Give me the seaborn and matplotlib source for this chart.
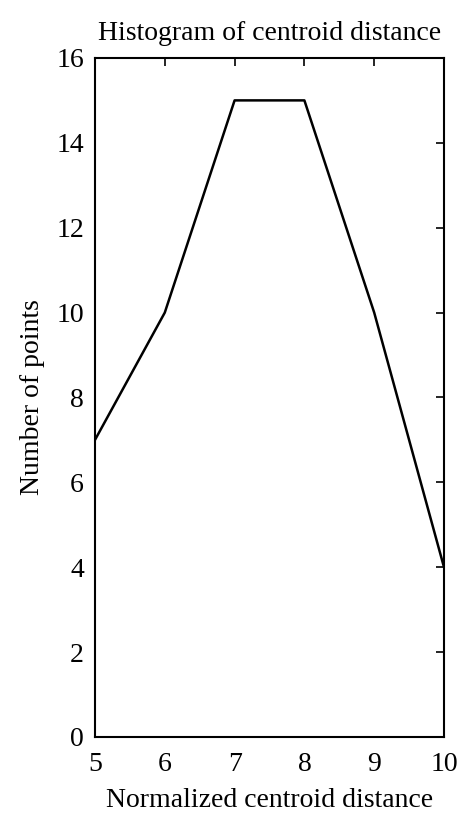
import matplotlib

matplotlib.use("Agg")

import matplotlib.pyplot as plt
import pandas as pd
import seaborn as sns

# histogram counts
centroid_distance = [5, 6, 7, 8, 9, 10]
num_points = [7, 10, 15, 15, 10, 4]

x_ticks = [5, 6, 7, 8, 9, 10]
y_ticks = [0, 2, 4, 6, 8, 10, 12, 14, 16]

sns.set_theme(style="white")
plt.rcParams["font.family"] = ["Liberation Serif", "DejaVu Serif"]
plt.rcParams["text.color"] = "black"
plt.rcParams["axes.labelcolor"] = "black"

df = pd.DataFrame({"dist": centroid_distance, "count": num_points})

fig = plt.figure(figsize=(4.74, 8.35), dpi=100)
ax = fig.add_axes([0.2004, 0.1174, 0.7363, 0.8132])

sns.lineplot(data=df, x="dist", y="count", color="black", linewidth=1.8, ax=ax)

ax.set_xlim(5, 10)
ax.set_ylim(0, 16)
ax.set_xticks(x_ticks)
ax.set_yticks(y_ticks)
ax.tick_params(direction="in", top=True, right=True, length=6, width=1.2,
               labelsize=20, color="black", labelcolor="black", pad=8)
ax.tick_params(axis="x", pad=11)
for s in ax.spines.values():
    s.set_color("black")
    s.set_linewidth(1.5)

ax.set_title("Histogram of centroid distance", fontsize=20, pad=13, color="black")
ax.set_xlabel("Normalized centroid distance", fontsize=20, labelpad=8)
ax.set_ylabel("Number of points", fontsize=20, labelpad=8)

fig.savefig("out.png", dpi=100)
plt.close(fig)
